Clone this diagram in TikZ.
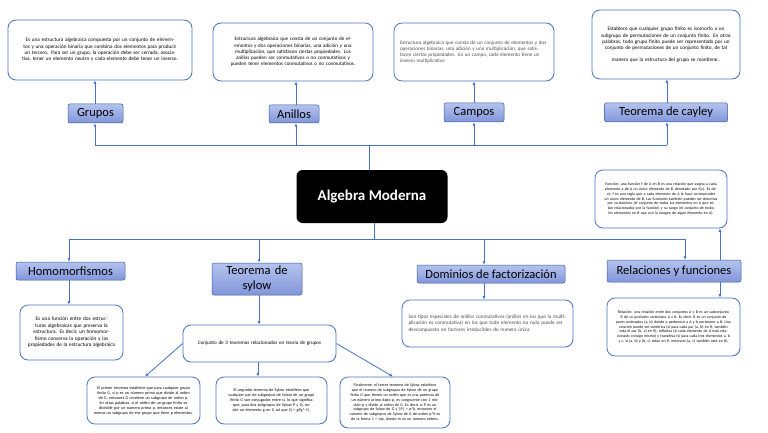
\documentclass[tikz,border=0pt]{standalone}
\usepackage{fontspec}
\setmainfont{Carlito}
\usetikzlibrary{arrows.meta}
\definecolor{conn}{HTML}{4472C4}
\definecolor{labtop}{HTML}{B4C3EE}
\definecolor{labbot}{HTML}{8196DA}
\newcommand{\fs}[1]{\fontsize{#1}{\fpeval{#1*1.22}}\selectfont}
\tikzset{
  desc/.style={draw=conn, line width=0.8pt, fill=white, rounded corners=8pt,
    align=center, inner sep=2pt},
  lab/.style={draw=conn!80!black, line width=0.5pt, top color=labtop, bottom color=labbot,
    rounded corners=2pt, align=center, inner sep=1pt, font=\fs{12.5}},
  conn/.style={draw=conn, line width=0.8pt},
  arr/.style={conn, -{Latex[length=3.5pt,width=3pt]}}
}
\begin{document}
\begin{tikzpicture}[x=1pt,y=-1pt]
\useasboundingbox (0,0) rectangle (768,433);

% descripciones superiores
\node[desc, minimum width=184, minimum height=60, text width=170, font=\fs{5.2}] (dgrupos) at (100,50)
  {Es una estructura algebraica compuesta por un conjunto de elementos y una operación binaria que combina dos elementos para producir un tercero. Para ser un grupo, la operación debe ser cerrada, asociativa, tener un elemento neutro y cada elemento debe tener un inverso.};
\node[desc, minimum width=160, minimum height=58, text width=150, font=\fs{5.1}] (danillos) at (293,52)
  {Estructura algebraica que consta de un conjunto de elementos y dos operaciones binarias, una adición y una multiplicación, que satisfacen ciertas propiedades. Los anillos pueden ser conmutativos o no conmutativos y pueden tener elementos conmutativos o no conmutativos.};
\node[desc, minimum width=160, minimum height=58, text width=148, align=left, font=\fs{5.1}, text=black!70] (dcampos) at (474,52)
  {Estructura algebraica que consta de un conjunto de elementos y dos operaciones binarias, una adición y una multiplicación, que satisfacen ciertas propiedades. En un campo, cada elemento tiene un inverso multiplicativo};
\node[desc, minimum width=148, minimum height=69, text width=134, font=\fs{5.2}] (dcayley) at (666,44.5)
  {Establece que cualquier grupo finito es isomorfo a un subgrupo de permutaciones de un conjunto finito. En otras palabras, todo grupo finito puede ser representado por un conjunto de permutaciones de un conjunto finito, de tal\\[5pt] manera que la estructura del grupo se mantiene..};

% etiquetas superiores
\node[lab, minimum width=55, minimum height=19] (grupos) at (95.5,113.5) {Grupos};
\node[lab, minimum width=50, minimum height=18] (anillos) at (294,114) {Anillos};
\node[lab, minimum width=60, minimum height=19] (campos) at (474,112.5) {Campos};
\node[lab, minimum width=123, minimum height=19] (cayley) at (666,112.5) {Teorema de cayley};

% centro
\node[fill=black, rounded corners=6pt, minimum width=151, minimum height=53, text=white,
  font=\bfseries\fs{15}] (centro) at (372,196.5) {Algebra Moderna};

% etiquetas inferiores
\node[lab, minimum width=109, minimum height=18] (homo) at (70.5,271) {Homomorfismos};
\node[lab, minimum width=90, minimum height=32, text width=86] (sylow) at (257,279) {Teorema de\\ sylow};
\node[lab, minimum width=148, minimum height=18] (domin) at (491,274) {Dominios de factorización};
\node[lab, minimum width=134, minimum height=22] (relac) at (674,271) {Relaciones y funciones};

% descripciones inferiores
\node[desc, minimum width=103, minimum height=55, text width=92, font=\fs{5.3}] (dhomo) at (71.5,332.5)
  {Es una función entre dos estructuras algebraicas que preserva la estructura. Es decir, un homomorfismo conserva la operación y las propiedades de la estructura algebraica};
\node[desc, minimum width=153, minimum height=37, text width=140, font=\fs{5.1}] (conj) at (259.5,343.5)
  {Conjunto de 3 teoremas relacionados en teoría de grupos};
\node[desc, minimum width=113, minimum height=47, text width=100, font=\fs{4.1}] (s1) at (143.5,400.5)
  {El primer teorema establece que para cualquier grupo finito G, si p es un número primo que divide al orden de G, entonces G contiene un subgrupo de orden p. En otras palabras, si el orden de un grupo finito es divisible por un número primo p, entonces existe al menos un subgrupo de ese grupo que tiene p elementos.};
\node[desc, minimum width=111, minimum height=47, text width=98, font=\fs{4.1}] (s2) at (271.5,400.5)
  {El segundo teorema de Sylow establece que cualquier par de subgrupos de Sylow de un grupo finito G son conjugados entre sí, lo que significa que, para dos subgrupos de Sylow P y Q, existe un elemento g en G tal que Q = gPg\textasciicircum{}-1).};
\node[desc, minimum width=110, minimum height=51, text width=100, font=\fs{4.0}, inner sep=1pt] (s3) at (395,402.5)
  {Finalmente, el tercer teorema de Sylow establece que el número de subgrupos de Sylow de un grupo finito G que tienen un orden que es una potencia de un número primo dado p, es congruente con 1 módulo p y divide al orden de G. Es decir, si P es un subgrupo de Sylow de G y |P| = p\textasciicircum{}k, entonces el número de subgrupos de Sylow de G de orden p\textasciicircum{}k es de la forma 1 + mp, donde m es un número entero.};
\node[desc, minimum width=171, minimum height=47, text width=158, align=left, font=\fs{5.2}, text=black!70] (ddomin) at (487.5,323.5)
  {Son tipos especiales de anillos conmutativos (anillos en los que la multiplicación es conmutativa) en los que todo elemento no nulo puede ser descompuesto en factores irreducibles de manera única};
\node[desc, minimum width=132, minimum height=58, text width=124, font=\fs{3.9}, inner sep=1pt] (dfunc) at (661,199)
  {Función: una función f de A en B es una relación que asigna a cada elemento a de A un único elemento de B, denotado por f(a). Es decir, f es una regla que a cada elemento de A le hace corresponder un único elemento de B. Las funciones también pueden ser descritas por su dominio (el conjunto de todos los elementos en A que están relacionados por la función) y su rango (el conjunto de todos los elementos en B que son la imagen de algún elemento en A).};
\node[desc, minimum width=133, minimum height=58, text width=124, font=\fs{3.9}, inner sep=1pt] (drelac) at (673.5,327)
  {Relación: una relación entre dos conjuntos A y B es un subconjunto R de su producto cartesiano A x B. Es decir, R es un conjunto de pares ordenados (a, b) donde a pertenece a A y b pertenece a B. Una relación puede ser simétrica (si para cada par (a, b) en R, también está el par (b, a) en R), reflexiva (si cada elemento de A está relacionado consigo mismo) y transitiva (si para cada tres elementos a, b y c, si (a, b) y (b, c) están en R, entonces (a, c) también está en R).};

% guias de conectores
\coordinate (tb) at (369,145);
\coordinate (bb) at (374,239);
\coordinate (xg) at (95,0);
\coordinate (xa) at (296,0);
\coordinate (xc) at (474,0);
\coordinate (xy) at (667,0);
\coordinate (xh) at (69,0);
\coordinate (xs) at (259,0);
\coordinate (xd) at (484,0);
\coordinate (rin) at (685,0);
\coordinate (rout) at (720,0);
\coordinate (x1) at (145,0);
\coordinate (x2) at (258,0);
\coordinate (x3) at (393,0);

% bus superior
\draw[conn] (centro.north -| tb) -- (tb);
\draw[conn] (xg |- tb) -- (xy |- tb);
\draw[arr] (xg |- tb) -- (xg |- grupos.south);
\draw[arr] (xa |- tb) -- (xa |- anillos.south);
\draw[arr] (xc |- tb) -- (xc |- campos.south);
\draw[arr] (xy |- tb) -- (xy |- cayley.south);
\draw[arr] (xg |- grupos.north) -- (xg |- dgrupos.south);
\draw[arr] (xa |- anillos.north) -- (xa |- danillos.south);
\draw[arr] (xc |- campos.north) -- (xc |- dcampos.south);
\draw[arr] (xy |- cayley.north) -- (xy |- dcayley.south);

% bus inferior
\draw[conn] (centro.south -| bb) -- (bb);
\draw[conn] (xh |- bb) -- (rin |- bb);
\draw[arr] (xh |- bb) -- (xh |- homo.north);
\draw[arr] (xs |- bb) -- (xs |- sylow.north);
\draw[arr] (xd |- bb) -- (xd |- domin.north);
\draw[arr] (rin |- bb) -- (rin |- relac.north);

\draw[arr] (xh |- homo.south) -- (xh |- dhomo.north);
\draw[arr] (xs |- sylow.south) -- (xs |- conj.north);
\draw[arr] (xd |- domin.south) -- (xd |- ddomin.north);
\draw[arr] (rout |- relac.north) -- (rout |- dfunc.south);
\draw[arr] (rout |- relac.south) -- (rout |- drelac.north);

\draw[arr] (conj.west) -- (x1 |- s1.north);
\draw[arr] (x2 |- conj.south) -- (x2 |- s2.north);
\draw[arr] (conj.east) -- (x3 |- s3.north);
\end{tikzpicture}
\end{document}
